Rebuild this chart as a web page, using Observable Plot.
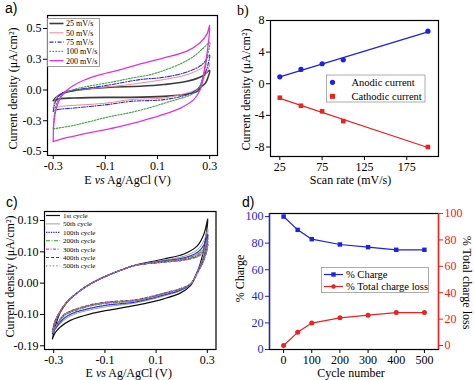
<!DOCTYPE html>
<html><head><meta charset="utf-8">
<script src="https://cdn.jsdelivr.net/npm/d3@7"></script>
<script src="https://cdn.jsdelivr.net/npm/@observablehq/plot@0.6"></script>
<style>
body{margin:0;background:#fff}
#wrap{position:relative;width:474px;height:380px;overflow:hidden;background:#fff}
#wrap > svg, #wrap > div{position:absolute}
</style>
</head><body><div id="wrap"></div>
<script>
// ---------- data: panel a ----------
const aScan = ["25 mV/s","50 mV/s","75 mV/s","100 mV/s","200 mV/s"];
const aXTicks = [-0.3,-0.1,0.1,0.3];
const aYTicks = [-0.5,-0.3,0,0.3,0.5];
const aXDomain = [-0.322,0.33];
const cv25 = [[-0.300,-0.104],[-0.285,-0.062],[-0.246,-0.020],[-0.195,0.004],[-0.093,0.026],[0.034,0.036],[0.124,0.053],[0.213,0.085],[0.271,0.134],[0.300,0.190],[0.291,0.105],[0.284,0.068],[0.264,0.021],[0.252,-0.013],[0.213,-0.039],[0.124,-0.062],[-0.004,-0.072],[-0.093,-0.072],[-0.221,-0.078],[-0.272,-0.084],[-0.300,-0.104]];
const cv50 = [[-0.300,-0.176],[-0.295,-0.111],[-0.279,-0.045],[-0.246,-0.013],[-0.157,0.014],[-0.030,0.046],[0.034,0.068],[0.124,0.102],[0.213,0.150],[0.271,0.215],[0.300,0.263],[0.296,0.215],[0.280,0.124],[0.264,0.036],[0.238,-0.008],[0.213,-0.029],[0.124,-0.078],[-0.004,-0.094],[-0.093,-0.127],[-0.221,-0.150],[-0.272,-0.160],[-0.300,-0.176]];
const cv75 = [[-0.300,-0.209],[-0.291,-0.111],[-0.266,-0.029],[-0.221,-0.003],[-0.093,0.046],[0.034,0.102],[0.124,0.124],[0.213,0.176],[0.271,0.248],[0.300,0.327],[0.295,0.261],[0.290,0.215],[0.272,0.105],[0.258,0.020],[0.213,-0.045],[0.124,-0.094],[-0.004,-0.111],[-0.093,-0.143],[-0.221,-0.176],[-0.285,-0.192],[-0.300,-0.209]];
const cv100 = [[-0.300,-0.353],[-0.295,-0.228],[-0.284,-0.111],[-0.264,-0.042],[-0.226,0.002],[-0.157,0.041],[-0.080,0.075],[-0.004,0.114],[0.073,0.150],[0.124,0.190],[0.188,0.255],[0.238,0.318],[0.272,0.367],[0.300,0.407],[0.291,0.320],[0.280,0.183],[0.264,0.046],[0.238,-0.032],[0.213,-0.062],[0.149,-0.111],[0.073,-0.170],[-0.004,-0.220],[-0.080,-0.258],[-0.157,-0.304],[-0.221,-0.330],[-0.272,-0.345],[-0.300,-0.353]];
const cv200 = [[-0.300,-0.435],[-0.298,-0.325],[-0.291,-0.209],[-0.279,-0.111],[-0.259,-0.029],[-0.227,0.036],[-0.183,0.095],[-0.119,0.150],[-0.042,0.199],[0.034,0.254],[0.124,0.309],[0.213,0.353],[0.264,0.409],[0.290,0.465],[0.300,0.522],[0.296,0.420],[0.283,0.248],[0.264,0.004],[0.239,-0.094],[0.188,-0.176],[0.111,-0.248],[0.034,-0.304],[-0.042,-0.336],[-0.119,-0.364],[-0.195,-0.390],[-0.253,-0.412],[-0.291,-0.431],[-0.300,-0.435]];
const aCurves = [cv25,cv50,cv75,cv100,cv200];
const aColors = ["#3c3c3c","#f28a8a","#2b2bd6","#3f9f3f","#e033e0"];
const aWidths = [1.6,1,1.1,1.1,1.3];
const aDashes = [null,null,"4,1.5,1,1.5","1.6,1.4",null];

// ---------- data: panel b ----------
const scanRate = [25,50,75,100,200];
const anodic = [0.88,1.81,2.53,3.03,6.65];
const cathodic = [-1.77,-2.78,-3.49,-4.72,-8.0];
const bXTicks = [25,75,125,175];
const bYTicks = [-8,-4,0,4,8];
const bXDomain = [14,212.5];
const bYDomain = [-9.2,8];
const bLegend = ["Anodic current","Cathodic current"];

// ---------- data: panel c ----------
const cCycles = ["1st cycle","50th cycle","100th cycle","200th cycle","300th cycle","400th cycle","500th cycle"];
const cXTicks = [-0.3,-0.1,0.1,0.3];
const cYTicks = [-0.19,-0.1,0,0.1,0.19];
const cXDomain = [-0.336,0.334];
const c1 = [[-0.305,-0.170],[-0.293,-0.132],[-0.274,-0.093],[-0.248,-0.061],[-0.208,-0.031],[-0.156,-0.002],[-0.091,0.024],[-0.026,0.045],[0.020,0.058],[0.130,0.077],[0.209,0.093],[0.261,0.117],[0.287,0.151],[0.302,0.195],[0.297,0.156],[0.281,0.088],[0.261,0.035],[0.235,-0.007],[0.196,-0.031],[0.130,-0.050],[0.020,-0.071],[-0.091,-0.087],[-0.156,-0.098],[-0.235,-0.117],[-0.274,-0.136],[-0.293,-0.151],[-0.305,-0.170]];
const c50 = [[-0.305,-0.158],[-0.295,-0.126],[-0.274,-0.091],[-0.248,-0.060],[-0.208,-0.031],[-0.156,-0.002],[-0.091,0.024],[-0.026,0.045],[0.020,0.057],[0.130,0.073],[0.209,0.086],[0.261,0.106],[0.287,0.132],[0.302,0.165],[0.297,0.128],[0.281,0.075],[0.261,0.038],[0.235,-0.004],[0.196,-0.024],[0.130,-0.041],[0.020,-0.063],[-0.091,-0.075],[-0.156,-0.085],[-0.222,-0.100],[-0.261,-0.117],[-0.293,-0.142],[-0.305,-0.158]];
const c100 = [[-0.305,-0.155],[-0.295,-0.124],[-0.274,-0.090],[-0.248,-0.060],[-0.208,-0.031],[-0.156,-0.002],[-0.091,0.024],[-0.026,0.045],[0.020,0.057],[0.130,0.071],[0.209,0.081],[0.261,0.098],[0.287,0.120],[0.302,0.150],[0.297,0.118],[0.281,0.070],[0.261,0.036],[0.235,-0.003],[0.196,-0.022],[0.130,-0.038],[0.020,-0.060],[-0.091,-0.070],[-0.156,-0.080],[-0.222,-0.095],[-0.261,-0.112],[-0.293,-0.140],[-0.305,-0.155]];
const c200 = [[-0.305,-0.151],[-0.296,-0.122],[-0.274,-0.089],[-0.248,-0.060],[-0.208,-0.031],[-0.156,-0.002],[-0.091,0.024],[-0.026,0.045],[0.020,0.057],[0.130,0.069],[0.209,0.078],[0.261,0.092],[0.287,0.110],[0.302,0.138],[0.297,0.110],[0.281,0.067],[0.261,0.034],[0.235,-0.002],[0.196,-0.019],[0.130,-0.034],[0.020,-0.056],[-0.091,-0.064],[-0.156,-0.073],[-0.222,-0.089],[-0.261,-0.105],[-0.293,-0.137],[-0.305,-0.151]];
const c300 = [[-0.305,-0.150],[-0.296,-0.122],[-0.274,-0.089],[-0.248,-0.060],[-0.208,-0.031],[-0.156,-0.002],[-0.091,0.024],[-0.026,0.045],[0.020,0.057],[0.130,0.068],[0.209,0.076],[0.261,0.088],[0.287,0.105],[0.302,0.130],[0.297,0.104],[0.281,0.065],[0.261,0.033],[0.235,-0.002],[0.196,-0.018],[0.130,-0.033],[0.020,-0.055],[-0.091,-0.062],[-0.156,-0.071],[-0.222,-0.087],[-0.261,-0.103],[-0.293,-0.136],[-0.305,-0.150]];
const c400 = [[-0.305,-0.149],[-0.296,-0.121],[-0.274,-0.089],[-0.248,-0.060],[-0.208,-0.031],[-0.156,-0.002],[-0.091,0.024],[-0.026,0.045],[0.020,0.057],[0.130,0.067],[0.209,0.074],[0.261,0.085],[0.287,0.100],[0.302,0.122],[0.297,0.100],[0.281,0.063],[0.261,0.032],[0.235,-0.002],[0.196,-0.017],[0.130,-0.032],[0.020,-0.053],[-0.091,-0.060],[-0.156,-0.069],[-0.222,-0.085],[-0.261,-0.101],[-0.293,-0.135],[-0.305,-0.149]];
const c500 = [[-0.305,-0.150],[-0.296,-0.122],[-0.274,-0.089],[-0.248,-0.060],[-0.208,-0.031],[-0.156,-0.002],[-0.091,0.024],[-0.026,0.045],[0.020,0.057],[0.130,0.067],[0.209,0.073],[0.261,0.084],[0.287,0.098],[0.302,0.120],[0.297,0.098],[0.281,0.062],[0.261,0.032],[0.235,-0.002],[0.196,-0.017],[0.130,-0.032],[0.020,-0.054],[-0.091,-0.061],[-0.156,-0.070],[-0.222,-0.086],[-0.261,-0.102],[-0.293,-0.136],[-0.305,-0.150]];
const cCurves = [c1,c50,c100,c200,c300,c400,c500];
const cColors = ["#111111","#a0a0a0","#3434e6","#22a222","#d244d2","#8e2424","#8a84b4"];
const cWidths = [1.2,1,1.3,1.1,1.1,1.1,1.2];
const cDashes = [null,null,"1.4,1","4,1.5,1,1.5","3,1.5,1,1.5","3,2","1.4,2"];

// ---------- data: panel d ----------
const cycleNo = [0,50,100,200,300,400,500];
const chargePct = [100,90,83,79,77,75,75];
const lossPct = [0,10,17,21,23,25,25];
const dXTicks = [0,100,200,300,400,500];
const dYTicks = [0,20,40,60,80,100];
const dXDomain = [-50,550];
const dYLeftDomain = [0,102.3];
const dYRightDomain = [-3,100];
const dLegend = ["% Charge","% Total charge loss"];

// ---------- helpers ----------
const SERIF = "'Liberation Serif','Times New Roman',serif";
const SANS = "'Liberation Sans',Arial,sans-serif";
const BLUE = "#1f1fe6", RED = "#ee2020";
const yTitleCV = "Current density (\u03bcA/cm\u00b2)";
const xTitleCV = "E vs Ag/AgCl (V)";
function base(w,h,[ml,mr,mt,mb]){
  return {width:w,height:h,marginLeft:ml,marginRight:mr,marginTop:mt,marginBottom:mb,
    style:{fontFamily:SERIF,fontSize:"12px",background:"transparent",overflow:"visible",color:"#000"}};
}
// the CV y-axes are labelled unevenly: evenly spaced ticks carry these labels,
// so values are mapped piecewise onto tick steps before Plot's linear y scale
const aStep = d3.scaleLinear().domain(aYTicks).range([-2,-1,0,1,2]);
const cStep = d3.scaleLinear().domain(cYTicks).range([-2,-1,0,1,2]);
function lineOpts(stroke,width,dash,step){
  const o = {x:d=>d[0],y:d=>step(d[1]),stroke,strokeWidth:width,curve:"catmull-rom"};
  if (dash) o.strokeDasharray = dash;
  return o;
}
function place(svg,left,top){ svg.style.left = left+"px"; svg.style.top = top+"px"; document.getElementById("wrap").appendChild(svg); return svg; }
const fmt1 = d=>d.toFixed(1);
const axOpts = {tickSize:4,tickPadding:2,label:null};

// ---------- panel a ----------
const pa = Plot.plot({
  ...base(237,190,[47,20,15,35]),
  x:{domain:aXDomain},
  y:{domain:[-2.13,2.423]},
  marks:[
    ...aCurves.map((c,i)=>Plot.line(c,lineOpts(aColors[i],aWidths[i],aDashes[i],aStep))),
    Plot.frame({stroke:"#000",strokeWidth:1.2}),
    Plot.axisX({...axOpts,ticks:aXTicks,tickFormat:fmt1}),
    Plot.axisY({...axOpts,ticks:aYTicks.map(aStep),tickFormat:v=>aStep.invert(v).toFixed(1)}),
    Plot.text([yTitleCV],{text:d=>d,frameAnchor:"left",rotate:-90,textAnchor:"middle",dx:-34,dy:3,fontSize:12}),
    Plot.text([xTitleCV],{text:d=>d,frameAnchor:"bottom",textAnchor:"middle",lineAnchor:"middle",dx:-5,dy:25,fontSize:12})
  ]
});
place(pa,0,0);

// ---------- panel b ----------
const bAn = scanRate.map((s,i)=>({s,v:anodic[i]}));
const bCa = scanRate.map((s,i)=>({s,v:cathodic[i]}));
const pb = Plot.plot({
  ...base(237,190,[33,36,20,34]),
  x:{domain:bXDomain},
  y:{domain:bYDomain},
  marks:[
    Plot.linearRegressionY(bAn,{x:"s",y:"v",stroke:BLUE,strokeWidth:1.2,ci:0}),
    Plot.linearRegressionY(bCa,{x:"s",y:"v",stroke:RED,strokeWidth:1.2,ci:0}),
    Plot.dot(bAn,{x:"s",y:"v",fill:BLUE,r:2.6}),
    Plot.dot(bCa,{x:"s",y:"v",fill:RED,symbol:"square",r:2.6}),
    Plot.frame({stroke:"#000",strokeWidth:1.2}),
    Plot.axisX({...axOpts,ticks:bXTicks}),
    Plot.axisY({...axOpts,ticks:bYTicks,tickFormat:d=>String(d)}),
    Plot.text([yTitleCV],{text:d=>d,frameAnchor:"left",rotate:-90,textAnchor:"middle",dx:-24,dy:1,fontSize:12}),
    Plot.text(["Scan rate (mV/s)"],{text:d=>d,frameAnchor:"bottom",textAnchor:"middle",lineAnchor:"middle",dx:-4,dy:24,fontSize:12})
  ]
});
place(pb,237,0);

// ---------- panel c ----------
const pc = Plot.plot({
  ...base(237,190,[44,21.5,21,31]),
  x:{domain:cXDomain},
  y:{domain:[-2.118,2.287]},
  marks:[
    ...cCurves.map((c,i)=>Plot.line(c,lineOpts(cColors[i],cWidths[i],cDashes[i],cStep))),
    Plot.frame({stroke:"#000",strokeWidth:1.2}),
    Plot.axisX({...axOpts,ticks:cXTicks,tickFormat:fmt1}),
    Plot.axisY({...axOpts,ticks:cYTicks.map(cStep),tickFormat:v=>cStep.invert(v).toFixed(2)}),
    Plot.text([yTitleCV],{text:d=>d,frameAnchor:"left",rotate:-90,textAnchor:"middle",dx:-34.5,dy:-4,fontSize:12}),
    Plot.text([xTitleCV],{text:d=>d,frameAnchor:"bottom",textAnchor:"middle",lineAnchor:"middle",dx:-1.5,dy:23.5,fontSize:12})
  ]
});
place(pc,0,190);

// ---------- panel d ----------
const dCh = cycleNo.map((c,i)=>({c,v:chargePct[i]}));
const dLo = cycleNo.map((c,i)=>({c,v:lossPct[i]}));
const dM = [32,36,23,31];
const pd1 = Plot.plot({
  ...base(237,190,dM),
  x:{domain:dXDomain},
  y:{domain:dYLeftDomain},
  marks:[
    Plot.frame({stroke:"#000",strokeWidth:1.2}),
    Plot.ruleX([dXDomain[0]],{stroke:BLUE,strokeWidth:1.4}),
    Plot.line(dCh,{x:"c",y:"v",stroke:BLUE,strokeWidth:1.2}),
    Plot.dot(dCh,{x:"c",y:"v",fill:BLUE,symbol:"square",r:2.5}),
    Plot.axisX({...axOpts,ticks:dXTicks}),
    Plot.axisY({...axOpts,ticks:dYTicks,stroke:BLUE,fill:BLUE}),
    Plot.text([dLegend[0]],{text:d=>d,frameAnchor:"left",rotate:-90,textAnchor:"middle",dx:-29,dy:-3,fontSize:12}),
    Plot.text(["Cycle number"],{text:d=>d,frameAnchor:"bottom",textAnchor:"middle",lineAnchor:"middle",dx:-3,dy:24,fontSize:12})
  ]
});
place(pd1,237,190);
const pd2 = Plot.plot({
  ...base(237,190,dM),
  x:{domain:dXDomain,axis:null},
  y:{domain:dYRightDomain,axis:null},
  marks:[
    Plot.ruleX([dXDomain[1]],{stroke:RED,strokeWidth:1.4}),
    Plot.line(dLo,{x:"c",y:"v",stroke:RED,strokeWidth:1.2}),
    Plot.dot(dLo,{x:"c",y:"v",fill:RED,r:2.5}),
    Plot.axisY({...axOpts,anchor:"right",ticks:dYTicks,stroke:RED,fill:RED}),
    Plot.text([dLegend[1]],{text:d=>d,frameAnchor:"right",rotate:90,textAnchor:"middle",dx:28.5,dy:1,fontSize:12})
  ]
});
place(pd2,237,190);

// italic "vs" in the potential axis titles
d3.selectAll("#wrap text").filter(function(){return this.textContent===xTitleCV;}).each(function(){
  const t = d3.select(this); t.text("");
  t.append("tspan").text("E ");
  t.append("tspan").attr("font-style","italic").text("vs");
  t.append("tspan").text(" Ag/AgCl (V)");
});

// ---------- overlay: legends and panel letters ----------
const ov = d3.select("#wrap").append("svg").attr("width",474).attr("height",380)
  .style("left","0px").style("top","0px").style("font-family",SERIF);
function legLine(g,x1,x2,y,stroke,w,dash){
  const l = g.append("line").attr("x1",x1).attr("x2",x2).attr("y1",y).attr("y2",y).attr("stroke",stroke).attr("stroke-width",w);
  if (dash) l.attr("stroke-dasharray",dash);
}
// a legend
ov.append("rect").attr("x",47.5).attr("y",18.5).attr("width",52).attr("height",48).attr("fill","#fff").attr("stroke","#888").attr("stroke-width",0.8);
aScan.forEach((lab,i)=>{
  const y = 23.5+i*9.3;
  legLine(ov,49.5,63.5,y,aColors[i],aWidths[i],aDashes[i]);
  ov.append("text").attr("x",66).attr("y",y).attr("dy","0.35em").attr("font-size",8).text(lab);
});
// b legend
ov.append("rect").attr("x",326.5).attr("y",75).attr("width",98.5).attr("height",27).attr("fill","#fff").attr("stroke","#999").attr("stroke-width",0.8);
ov.append("circle").attr("cx",332.5).attr("cy",82.3).attr("r",2.6).attr("fill",BLUE);
ov.append("rect").attr("x",330).attr("y",93.8).attr("width",5).attr("height",5).attr("fill",RED);
bLegend.forEach((lab,i)=>ov.append("text").attr("x",351.5).attr("y",82.3+i*14).attr("dy","0.35em").attr("font-size",10.5).text(lab));
// c legend
cCycles.forEach((lab,i)=>{
  const y = 215.5+i*8.4;
  legLine(ov,46,60,y,cColors[i],cWidths[i],cDashes[i]);
  ov.append("text").attr("x",63).attr("y",y).attr("dy","0.35em").attr("font-size",7).text(lab);
});
// d legend
ov.append("rect").attr("x",321.5).attr("y",267.5).attr("width",107).attr("height",25).attr("fill","#fff").attr("stroke","#999").attr("stroke-width",0.8);
legLine(ov,324,343,274.5,BLUE,1.2,null);
ov.append("rect").attr("x",331.3).attr("y",272.3).attr("width",4.4).attr("height",4.4).attr("fill",BLUE);
legLine(ov,324,343,286.5,RED,1.2,null);
ov.append("circle").attr("cx",333.5).attr("cy",286.5).attr("r",2.3).attr("fill",RED);
dLegend.forEach((lab,i)=>ov.append("text").attr("x",346).attr("y",274.5+i*12).attr("dy","0.35em").attr("font-size",10.5).text(lab));
// panel letters
[["a)",5,13,SANS],["b)",237,15,SERIF],["c)",6,207,SANS],["d)",242,207,SANS]].forEach(([t,x,y,f])=>
  ov.append("text").attr("x",x).attr("y",y).attr("font-family",f).attr("font-size",14).text(t));
</script>
</body></html>
